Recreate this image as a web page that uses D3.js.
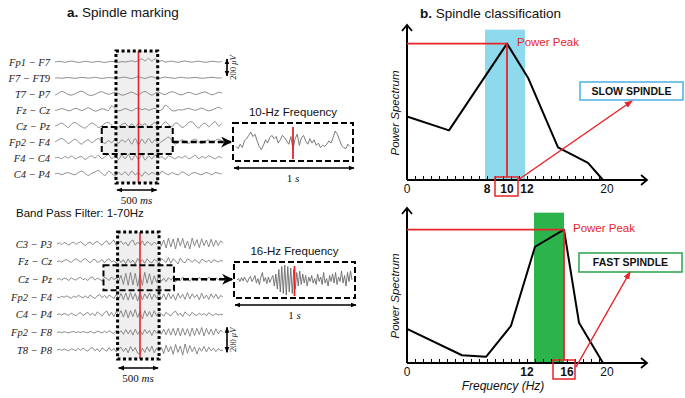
<!DOCTYPE html>
<html><head><meta charset="utf-8">
<script src="https://cdn.jsdelivr.net/npm/d3@7"></script>
<style>body{margin:0;background:#fff}svg{display:block}</style>
</head><body>
<svg id="c" width="685" height="398"></svg>
<script>
// ---------- DATA ----------
const topLabels = ["Fp1 − F7","F7 − FT9","T7 − P7","Fz − Cz","Cz − Pz","Fp2 − F4","F4 − C4","C4 − P4"];
const bottomLabels = ["C3 − P3","Fz − Cz","Cz − Pz","Fp2 − F4","C4 − P4","Fp2 − F8","T8 − P8"];

// top montage traces (relative amplitude, 0–2000 ms)
const tFp1F7 = [0,4,2,-2,3,6,2,-3,0,5,3,-2,1,4,0,-3,2,5,1,-2,3,0,4,8,2,10,22,8,26,6,24,4,10,0,3,6,1,-2,4,7,2,-1,3,6,2,-2,1,5,3,0,4];
const tF7FT9 = [0,1,-2,2,3,0,-2,1,4,2,-1,2,5,1,-3,0,3,2,-2,1,4,6,0,-4,3,8,2,-3,5,9,1,-4,2,6,3,0,-2,3,5,1,-1,2,4,1,-2,0,3,5,2,0,1];
const tT7P7 = [-8,5,18,10,-4,-8,2,14,20,8,-6,-10,-2,10,16,6,-2,4,12,4,-8,-4,6,14,2,-6,10,18,4,-8,6,14,2,-4,8,16,10,-2,-6,4,12,6,-4,2,10,14,4,-6,2,12,6];
const tFzCz = [-4,2,10,4,-6,0,12,6,-4,6,16,4,-8,-2,8,4,-4,30,10,-6,0,10,2,-6,8,14,2,10,-2,6,12,-4,2,34,20,-4,-6,2,0,6,12,4,-2,6,14,2,-6,0,10,20,6];
const tCzPz = [0,10,20,5,-10,15,25,10,-5,-15,5,20,10,-10,0,20,25,5,-15,-5,10,20,-5,15,-10,20,5,15,-5,10,25,-10,5,30,10,-5,20,15,-10,0,25,30,5,-15,10,20,-5,15,30,0,20];
const tFp2F4 = [0,15,25,10,-10,5,20,0,-15,5,15,-5,10,25,5,-10,10,-5,20,-10,15,0,20,-15,25,-20,20,-10,25,-5,15,-10,5,20,35,10,-15,0,15,5,-10,10,20,0,-10,5,15,-5,10,20,5];
const tF4C4 = [0,5,-5,10,0,15,-5,5,10,-10,5,15,0,20,-5,10,25,-5,15,-10,20,-5,25,-15,20,-10,25,-15,15,-5,20,0,10,-10,15,5,-5,10,0,15,-5,5,20,-5,10,0,15,5,-5,10,0];
const tC4P4 = [0,5,-5,5,10,0,-5,10,20,5,-10,5,15,25,5,-10,20,5,-15,10,-5,15,-10,20,-5,10,-15,15,-5,10,0,-10,20,5,-5,10,0,-5,15,5,-10,5,10,0,-5,10,5,-5,10,5,0];

// bottom montage traces (band pass 1–70 Hz)
const bC3P3 = [0,6,-4,8,2,-6,4,10,-2,6,12,0,-8,4,10,-4,6,14,2,-6,8,16,-4,10,20,-8,6,14,-2,8,-10,12,20,-6,10,-4,16,-8,12,4,-6,10,-2,14,-10,20,-20,30,-15,25,-25,30,-10,28,-20,15,-25,30,-10,22,-18,26,-8,20,-15,24,-12,18,-8,16,4];
const bFzCz = [0,4,-2,6,10,2,-4,8,14,6,-2,10,16,4,-6,8,12,-4,2,10,-6,8,14,-2,6,-8,12,-4,10,-10,14,-6,8,-12,16,-4,10,-8,14,0,-6,12,4,-10,16,6,-4,20,-8,14,4,-12,18,0,-6,14,8,-4,10,2,-8,12,6,-2,8,-6,10,4,-2,6,2];
const bCzPz = [0,4,-4,6,2,-6,8,0,-4,6,10,-2,4,-6,8,12,-4,6,0,-8,10,4,-6,12,-2,8,-10,20,-25,30,-30,35,-28,30,-35,25,-30,35,-20,28,-25,18,-15,20,-10,6,-12,8,-4,10,-14,6,-8,12,-6,4,-10,8,2,-6,10,-4,6,-8,12,0,-6,8,-2,6,0];
const bFp2F4 = [0,-4,4,-2,6,0,-6,4,-2,8,2,-4,6,-6,10,0,-8,6,12,-4,8,-6,10,2,-8,14,-10,18,-14,20,-16,22,-12,18,-20,24,-14,16,-8,20,-12,14,-6,18,-10,16,-14,20,-8,12,-16,18,-6,14,-12,22,-10,16,-4,12,-14,20,-8,10,-12,16,-6,14,-10,8,0];
const bC4P4 = [0,4,-2,6,2,-4,8,0,-6,6,10,-4,4,12,-2,8,-6,14,4,-8,10,18,-6,12,-10,16,-4,20,-12,24,-16,20,-10,26,-14,18,-22,20,-8,16,-12,20,-6,14,4,-8,12,0,-6,10,18,-4,8,-10,14,2,-6,12,0,-4,8,-2,6,-6,10,0,-4,6,-2,2,0];
const bFp2F8 = [0,2,-2,3,0,-3,2,4,-1,3,-2,4,1,-3,5,0,-4,6,2,-3,5,-2,8,0,-6,10,-4,8,-10,14,-8,12,-14,16,-10,8,-12,14,-6,10,-16,12,-4,8,-10,16,-12,18,-14,20,-16,22,-18,20,-14,18,-20,22,-16,20,-12,24,-18,20,-10,16,-14,18,-8,12,0];
const bT8P8 = [0,3,-2,5,0,-4,6,2,-3,8,-2,10,0,-6,8,12,-4,6,-8,10,2,-6,12,-4,8,-10,6,14,-8,10,-14,18,-6,12,-16,-20,10,-12,16,-8,20,-14,10,-6,14,-18,24,-10,18,-22,28,-12,20,-26,30,-16,22,-8,16,-20,12,-6,18,-10,14,-4,10,-8,6,-2,0];

// zoomed spindles (1 s)
const tenHz = [-20,-30,-10,-25,5,15,30,45,25,35,5,-20,-35,-15,10,-5,20,30,15,25,-5,10,30,20,5,-10,25,-35,15,35,-15,20,30,5,-10,15,-5,10,-15,-5,-25,-15,-20,-10,5,-5,20,50,35,10,-15,-25,-30,-10,-20];
const sixteenHz = [0,5,-5,8,-3,10,0,-8,5,12,-5,3,15,-10,5,-15,10,25,-5,8,-12,10,-8,5,15,-20,20,-30,35,-40,45,-45,50,-50,45,-40,40,-45,35,-30,25,-20,30,-15,20,-10,15,-20,10,-5,15,-10,5,-15,20,-5,10,-15,25,-10,5,-20,15,-5,20,-10,25,-15,10,-5,30,-10,15,-20,25,-5,30,0];

const spindleWindow = [730, 1230];   // ms
const spindleMark = 1000;            // ms
const zoomWindow = [560, 1410];      // ms

// spectra
const slowFreq = [0, 4.2, 10, 12.1, 15.1, 18.1, 19.6];
const slowPower = [0.41, 0.32, 0.88, 0.66, 0.21, 0.11, 0];
const slowBand = [7.8, 11.8];
const slowPeak = 10;
const fastFreq = [0, 5.5, 7.9, 10.4, 12.8, 15.7, 17.2, 19.6];
const fastPower = [0.22, 0.05, 0.04, 0.24, 0.75, 0.86, 0.26, 0];
const fastBand = [12.7, 15.7];
const fastPeak = 15.7;
const slowTickLabels = [{v:0,t:"0",b:false},{v:8,t:"8",b:true},{v:10,t:"10",b:true},{v:12,t:"12",b:true},{v:20,t:"20",b:false}];
const fastTickLabels = [{v:0,t:"0",b:false},{v:12,t:"12",b:true},{v:16,t:"16",b:true},{v:20,t:"20",b:false}];

// ---------- DRAW ----------
const svg = d3.select("#c");
svg.append("rect").attr("width",685).attr("height",398).attr("fill","#fff");
const RED = "#e8242a";
const defs = svg.append("defs");
function marker(id, color, size, path){
  defs.append("marker").attr("id",id).attr("viewBox","0 0 10 10").attr("refX",9).attr("refY",5)
    .attr("markerWidth",size).attr("markerHeight",size).attr("markerUnits","userSpaceOnUse")
    .attr("orient","auto-start-reverse")
    .append("path").attr("d",path).attr("fill",color);
}
marker("ah","#000",6,"M0,1 L10,5 L0,9 z");
marker("ahBig","#000",11,"M0,0 L10,5 L0,10 L3,5 z");
marker("ahRed",RED,8,"M0,1 L10,5 L0,9 z");

const SERIF = "'Liberation Serif','DejaVu Serif',serif";
const SANS = "'Liberation Sans',Arial,sans-serif";

function eegBlock(opt){
  const g = svg.append("g");
  const rows = d3.scalePoint().domain(opt.labels).range(opt.rowRange);
  const t = d3.scaleLinear().domain([0,2000]).range(opt.xRange);
  const a = d3.scaleLinear().domain([0,opt.unitsFull]).range([0,-opt.traceGainPx]);
  g.append("rect").attr("x",t(spindleWindow[0])).attr("y",opt.dotY[0])
    .attr("width",t(spindleWindow[1])-t(spindleWindow[0])).attr("height",opt.dotY[1]-opt.dotY[0])
    .attr("fill","#efefef");
  const zr = rows(opt.labels[opt.zoomRow]);
  g.append("rect").attr("x",t(zoomWindow[0])).attr("y",zr-opt.zoomH[0])
    .attr("width",t(zoomWindow[1])-t(zoomWindow[0])).attr("height",opt.zoomH[0]+opt.zoomH[1])
    .attr("fill","#e6e6e6").attr("fill-opacity",0.6);
  opt.labels.forEach((lab,k)=>{
    const vals = opt.data[k], n = vals.length;
    const line = d3.line().curve(opt.curve).x((d,i)=>t(i*2000/(n-1))).y(d=>rows(lab)+a(d));
    g.append("path").attr("d",line(vals)).attr("fill","none").attr("stroke","#767676").attr("stroke-width",0.85);
    g.append("text").attr("x",opt.xRange[0]-5).attr("y",rows(lab)+3.5).attr("text-anchor","end")
      .attr("font-family",SERIF).attr("font-style","italic").attr("font-size",10.5).attr("fill","#222").text(lab);
  });
  g.append("line").attr("x1",t(spindleMark)).attr("x2",t(spindleMark)).attr("y1",opt.dotY[0]).attr("y2",opt.dotY[1])
    .attr("stroke",RED).attr("stroke-width",1.6);
  g.append("rect").attr("x",t(spindleWindow[0])).attr("y",opt.dotY[0])
    .attr("width",t(spindleWindow[1])-t(spindleWindow[0])).attr("height",opt.dotY[1]-opt.dotY[0])
    .attr("fill","none").attr("stroke","#000").attr("stroke-width",3).attr("stroke-dasharray","3 2.6");
  g.append("rect").attr("x",t(zoomWindow[0])).attr("y",zr-opt.zoomH[0])
    .attr("width",t(zoomWindow[1])-t(zoomWindow[0])).attr("height",opt.zoomH[0]+opt.zoomH[1])
    .attr("fill","none").attr("stroke","#000").attr("stroke-width",2).attr("stroke-dasharray","6 3");
  g.append("line").attr("x1",t(zoomWindow[1])).attr("x2",opt.inset.x0-2).attr("y1",zr).attr("y2",zr)
    .attr("stroke","#000").attr("stroke-width",2.5).attr("stroke-dasharray","6 3").attr("marker-end","url(#ahBig)");
  g.append("line").attr("x1",t(spindleWindow[0])+1).attr("x2",t(spindleWindow[1])-1).attr("y1",opt.msY).attr("y2",opt.msY)
    .attr("stroke","#000").attr("stroke-width",1.5).attr("marker-start","url(#ah)").attr("marker-end","url(#ah)");
  const ms = g.append("text").attr("x",t(spindleMark)-2).attr("y",opt.msY+14).attr("text-anchor","middle")
    .attr("font-family",SERIF).attr("font-size",11).attr("fill","#111");
  ms.append("tspan").text("500 "); ms.append("tspan").attr("font-style","italic").text("ms");
  const sb = d3.scaleLinear().domain([0,200]).range([0,-opt.px200]);
  const sy0 = rows(opt.labels[opt.scaleRow]) + opt.scaleOff;
  g.append("line").attr("x1",opt.scaleX).attr("x2",opt.scaleX).attr("y1",sy0).attr("y2",sy0+sb(200))
    .attr("stroke","#000").attr("stroke-width",1.6).attr("marker-start","url(#ah)").attr("marker-end","url(#ah)");
  const uv = g.append("text").attr("transform",`translate(${opt.scaleX+9},${sy0+sb(100)}) rotate(-90)`)
    .attr("text-anchor","middle").attr("font-family",SERIF).attr("font-size",8.5).attr("fill","#111");
  uv.append("tspan").text("200 "); uv.append("tspan").attr("font-style","italic").text("μV");
  const I = opt.inset;
  const ti = d3.scaleLinear().domain([0,1000]).range([I.x0+3,I.x1-3]);
  const ai = d3.scaleLinear().domain([0,50]).range([0,-I.amp]);
  const cy = (I.y0+I.y1)/2;
  g.append("text").attr("x",(I.x0+I.x1)/2).attr("y",I.y0-7).attr("text-anchor","middle")
    .attr("font-family",SANS).attr("font-size",11.5).attr("fill","#111").text(I.title);
  const il = d3.line().x((d,i)=>ti(i*1000/(I.data.length-1))).y(d=>cy+ai(d));
  g.append("path").attr("d",il(I.data)).attr("fill","none").attr("stroke","#6a6a6a").attr("stroke-width",0.9);
  g.append("line").attr("x1",ti(500)).attr("x2",ti(500)).attr("y1",I.y0+4).attr("y2",I.y1-2)
    .attr("stroke",RED).attr("stroke-width",1.8);
  g.append("rect").attr("x",I.x0).attr("y",I.y0).attr("width",I.x1-I.x0).attr("height",I.y1-I.y0)
    .attr("fill","none").attr("stroke","#000").attr("stroke-width",2).attr("stroke-dasharray","6 3");
  g.append("line").attr("x1",I.x0+1).attr("x2",I.x1+1).attr("y1",I.y1+7).attr("y2",I.y1+7)
    .attr("stroke","#000").attr("stroke-width",1.5).attr("marker-start","url(#ah)").attr("marker-end","url(#ah)");
  const os = g.append("text").attr("x",ti(500)).attr("y",I.y1+21).attr("text-anchor","middle")
    .attr("font-family",SERIF).attr("font-size",11).attr("fill","#111");
  os.append("tspan").text("1 "); os.append("tspan").attr("font-style","italic").text("s");
}

const ta = svg.append("text").attr("x",67).attr("y",17).attr("font-family",SANS).attr("font-size",13.5).attr("fill","#111");
ta.append("tspan").attr("font-weight","bold").text("a."); ta.append("tspan").text(" Spindle marking");
const tb = svg.append("text").attr("x",420).attr("y",18).attr("font-family",SANS).attr("font-size",13.5).attr("fill","#111");
tb.append("tspan").attr("font-weight","bold").text("b."); tb.append("tspan").text(" Spindle classification");
svg.append("text").attr("x",16).attr("y",217).attr("font-family",SANS).attr("font-size",11.5).attr("fill","#111")
  .text("Band Pass Filter: 1-70Hz");

eegBlock({labels:topLabels, data:[tFp1F7,tF7FT9,tT7P7,tFzCz,tCzPz,tFp2F4,tF4C4,tC4P4],
  rowRange:[62,174], xRange:[55,222], px200:17, unitsFull:50, traceGainPx:7, curve:d3.curveCatmullRom,
  dotY:[51,183], zoomRow:5, zoomH:[15,12],
  msY:190, scaleX:227, scaleRow:0, scaleOff:14,
  inset:{x0:233,x1:353,y0:123,y1:161,amp:11,title:"10-Hz Frequency",data:tenHz}});
eegBlock({labels:bottomLabels, data:[bC3P3,bFzCz,bCzPz,bFp2F4,bC4P4,bFp2F8,bT8P8],
  rowRange:[244,350], xRange:[57,223], px200:25, unitsFull:50, traceGainPx:10, curve:d3.curveLinear,
  dotY:[232,359], zoomRow:2, zoomH:[14,11],
  msY:368, scaleX:227, scaleRow:5, scaleOff:20,
  inset:{x0:234,x1:355,y0:262,y1:298,amp:15,title:"16-Hz Frequency",data:sixteenHz}});

// ---------- spectra ----------
const xF = d3.scaleLinear().domain([0,24]).range([407,647]);
const minorTicks = d3.range(1,25).map(i=>i*0.8);
function spectrum(o){
  const y = d3.scaleLinear().domain([0,1]).range([o.y0, o.y0-155]);
  const g = svg.append("g");
  g.append("rect").attr("x",xF(o.band[0])).attr("y",y(0.97)).attr("width",xF(o.band[1])-xF(o.band[0]))
    .attr("height",y(0)-y(0.97)).attr("fill",o.bandColor);
  const ax = g.append("g").attr("transform",`translate(0,${o.y0})`)
    .call(d3.axisBottom(xF).tickValues(minorTicks).tickSizeInner(-4).tickSizeOuter(0).tickFormat(""));
  ax.select(".domain").remove();
  ax.selectAll(".tick line").attr("stroke","#000").attr("stroke-width",1);
  g.append("line").attr("x1",xF(0)).attr("x2",xF(24)).attr("y1",o.y0).attr("y2",o.y0).attr("stroke","#000").attr("stroke-width",2);
  g.append("line").attr("x1",xF(0)).attr("x2",xF(0)).attr("y1",o.y0).attr("y2",y(1)).attr("stroke","#000").attr("stroke-width",2);
  g.append("path").attr("d",`M${xF(24)-6},${o.y0-5} L${xF(24)},${o.y0} L${xF(24)-6},${o.y0+5}`)
    .attr("fill","none").attr("stroke","#000").attr("stroke-width",1.8);
  g.append("path").attr("d",`M${xF(0)-5},${y(1)+6} L${xF(0)},${y(1)} L${xF(0)+5},${y(1)+6}`)
    .attr("fill","none").attr("stroke","#000").attr("stroke-width",1.8);
  o.labels.forEach(l=>{
    g.append("text").attr("x",xF(l.v)).attr("y",o.y0+12.5).attr("text-anchor","middle")
      .attr("font-family",SANS).attr("font-size",12).attr("font-weight",l.b?"bold":"normal").attr("fill","#111").text(l.t);
  });
  g.append("text").attr("transform",`translate(${xF(0)-8},${o.y0-67}) rotate(-90)`).attr("text-anchor","middle")
    .attr("font-family",SANS).attr("font-style","italic").attr("font-size",11.5).attr("fill","#111").text("Power Spectrum");
  const pts = o.freq.map((f,i)=>[f,o.power[i]]);
  g.append("path").attr("d",d3.line().x(d=>xF(d[0])).y(d=>y(d[1]))(pts)).attr("fill","none")
    .attr("stroke","#000").attr("stroke-width",2).attr("stroke-linejoin","round");
  const pk = d3.max(o.power);
  g.append("line").attr("x1",xF(0)).attr("x2",xF(o.peak)).attr("y1",y(pk)).attr("y2",y(pk)).attr("stroke",RED).attr("stroke-width",1.8);
  g.append("line").attr("x1",xF(o.peak)).attr("x2",xF(o.peak)).attr("y1",y(pk)).attr("y2",o.y0-3).attr("stroke",RED).attr("stroke-width",1.8);
  g.append("text").attr("x",o.ppX).attr("y",y(pk)+o.ppDy).attr("font-family",SANS).attr("font-size",11.5)
    .attr("fill",RED).text("Power Peak");
  g.append("rect").attr("x",o.rb[0]).attr("y",o.y0-3).attr("width",o.rb[1]-o.rb[0]).attr("height",19)
    .attr("fill","none").attr("stroke",RED).attr("stroke-width",1.5);
  g.append("rect").attr("x",o.box[0]).attr("y",o.box[1]).attr("width",103).attr("height",o.box[2])
    .attr("fill","#fff").attr("stroke",o.boxColor).attr("stroke-width",1.6);
  g.append("text").attr("x",o.box[0]+51.5).attr("y",o.box[1]+o.box[2]/2+3.8).attr("text-anchor","middle")
    .attr("font-family",SANS).attr("font-weight","bold").attr("font-size",10.5).attr("fill","#111").text(o.boxText);
  g.append("line").attr("x1",o.arrow[0]).attr("y1",o.arrow[1]).attr("x2",o.arrow[2]).attr("y2",o.arrow[3])
    .attr("stroke",RED).attr("stroke-width",1.5).attr("marker-end","url(#ahRed)");
  return g;
}
spectrum({y0:180, band:slowBand, bandColor:"#8fd9ec", freq:slowFreq, power:slowPower, peak:slowPeak,
  labels:slowTickLabels, ppX:517, ppDy:2, rb:[495,518], box:[580,82,18], boxColor:"#55b4e6",
  boxText:"SLOW SPINDLE", arrow:[518,180,632,101]});
spectrum({y0:363, band:fastBand, bandColor:"#2db34c", freq:fastFreq, power:fastPower, peak:fastPeak,
  labels:fastTickLabels, ppX:573, ppDy:2, rb:[553,575], box:[579,253,19], boxColor:"#35a853",
  boxText:"FAST SPINDLE", arrow:[576,367,630,272]});
svg.append("text").attr("x",xF(9.6)).attr("y",390).attr("text-anchor","middle").attr("font-family",SANS)
  .attr("font-style","italic").attr("font-size",12).attr("fill","#111").text("Frequency (Hz)");
</script>
</body></html>
